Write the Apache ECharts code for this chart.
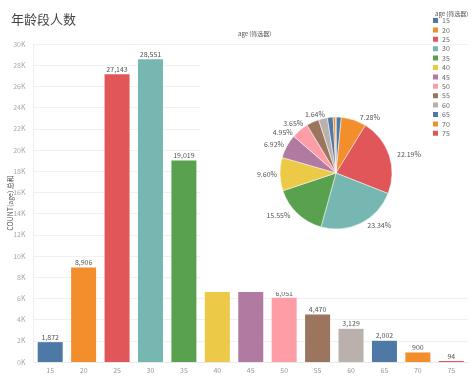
<!DOCTYPE html>
<html>
<head>
<meta charset="utf-8">
<style>html,body{margin:0;padding:0;background:#fff;}#c{width:474px;height:379px;}</style>
<script src="https://cdn.jsdelivr.net/npm/echarts@6/dist/echarts.min.js"></script>
</head>
<body>
<div id="c"></div>
<script>
var categories = ['15','20','25','30','35','40','45','50','55','60','65','70','75'];
var counts = [1872, 8906, 27143, 28551, 19019, 11743, 8464, 6051, 4470, 3129, 2002, 900, 94];
var piePercents = [1.53, 7.28, 22.19, 23.34, 15.55, 9.60, 6.92, 4.95, 3.65, 2.56, 1.64, 0.74, 0.08];
var pieLabelHidden = ['15', '60', '70', '75'];
var yTicks = ['0K','2K','4K','6K','8K','10K','12K','14K','16K','18K','20K','22K','24K','26K','28K','30K'];
var palette = ['#4e79a7','#f28e2b','#e15759','#76b7b2','#59a14f','#edc948','#b07aa1','#ff9da7','#9c755f','#bab0ac','#4e79a7','#f28e2b','#e15759'];

var font = '"Noto Sans CJK SC", "Open Sans", sans-serif';
var chart = echarts.init(document.getElementById('c'));
var pieData = categories.map(function (c, i) {
  return {
    name: c,
    value: piePercents[i],
    label: { show: pieLabelHidden.indexOf(c) < 0 }
  };
});
chart.setOption({
  animation: false,
  color: palette,
  textStyle: { fontFamily: font },
  title: [
    { text: '年龄段人数', left: 6, top: 8, textStyle: { fontSize: 13, fontWeight: 'normal', color: '#444', fontFamily: font }, z: 10 },
    { text: 'age (筛选器)', left: 233, top: 26, textStyle: { fontSize: 6, fontWeight: 'normal', color: '#555' }, z: 10 },
    { text: 'age (筛选器)', left: 430, top: 6, textStyle: { fontSize: 6, fontWeight: 'normal', color: '#555' }, z: 10 }
  ],
  legend: {
    orient: 'vertical',
    left: 431,
    top: 16,
    padding: 0,
    itemWidth: 7,
    itemHeight: 7,
    itemGap: 0.4,
    icon: 'rect',
    data: categories,
    textStyle: { fontSize: 7, lineHeight: 7, color: '#666', padding: [0, 0, 0, -2] },
    z: 10
  },
  grid: { left: 33.5, right: 6, top: 44, bottom: 17, containLabel: false, outerBoundsMode: 'none' },
  xAxis: {
    type: 'category',
    data: categories,
    axisTick: { show: false },
    axisLine: { lineStyle: { color: '#e8e8e8' } },
    axisLabel: { fontSize: 7, color: '#999', margin: 5 }
  },
  yAxis: {
    type: 'value',
    min: 0,
    max: 30000,
    interval: 2000,
    name: 'COUNT(age) 总和',
    nameLocation: 'middle',
    nameGap: 20,
    nameMoveOverlap: false,
    nameTextStyle: { fontSize: 7, color: '#555' },
    axisLine: { show: true, lineStyle: { color: '#eeeeee' } },
    axisTick: { show: false },
    splitLine: { lineStyle: { color: '#f0f0f0' } },
    axisLabel: {
      fontSize: 7, color: '#aaa', margin: 8,
      formatter: function (v) { return yTicks[Math.round(v / 2000)]; }
    }
  },
  graphic: {
    z: 5,
    elements: [{
      type: 'rect', z: 5, silent: true,
      shape: { x: 200, y: 46, width: 274, height: 246 },
      style: { fill: '#ffffff' }
    }]
  },
  series: [
    {
      type: 'bar',
      data: counts,
      colorBy: 'data',
      barWidth: 25,
      z: 2,
      label: {
        show: true, position: 'top', distance: 1.5, fontSize: 7, color: '#555',
        formatter: function (p) { return p.value.toLocaleString('en-US'); }
      }
    },
    {
      type: 'pie',
      z: 10,
      center: [336, 173],
      radius: 56,
      startAngle: 90,
      clockwise: true,
      data: pieData,
      legendHoverLink: false,
      label: {
        position: 'outside', fontSize: 7, color: '#555',
        formatter: function (p) { return p.value.toFixed(2) + '%'; }
      },
      labelLine: { show: false, length: 3, length2: 0 },
      itemStyle: { borderColor: '#fff', borderWidth: 0.5 }
    }
  ]
});
</script>
</body>
</html>
